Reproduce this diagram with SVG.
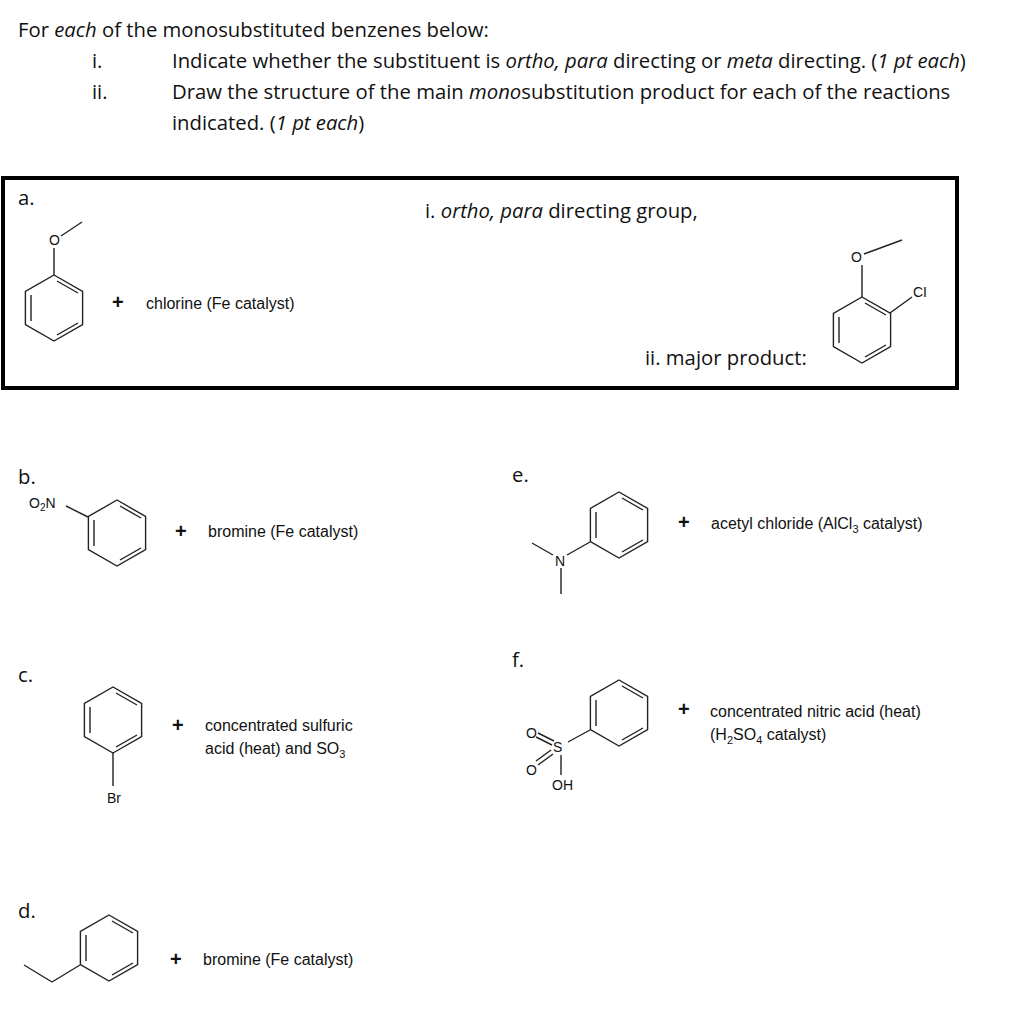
<svg xmlns="http://www.w3.org/2000/svg" width="1024" height="1010" viewBox="0 0 1024 1010">
<style>
.h{font-family:"Open Sans","Liberation Sans",sans-serif;font-size:20.3px;fill:#111}
.r{font-family:"Liberation Sans",Arial,sans-serif;font-size:16px;fill:#111}
.a{font-family:"Liberation Sans",Arial,sans-serif;font-size:14px;fill:#111}
.p{font-family:"Liberation Sans",Arial,sans-serif;font-size:20px;font-weight:bold;fill:#111}
.b{fill:none;stroke:#222;stroke-width:1.4}
</style>
<defs>
<g id="bz">
<polygon class="b" points="0,-33 28.6,-16.5 28.6,16.5 0,33 -28.6,16.5 -28.6,-16.5"/>
<line class="b" x1="3" y1="-27" x2="24" y2="-15"/>
<line class="b" x1="-23" y1="-13" x2="-23" y2="13"/>
<line class="b" x1="3" y1="27" x2="24" y2="15"/>
</g>
</defs>
<rect width="1024" height="1010" fill="#fff"/>
<text class="h" x="18" y="37">For <tspan font-style="italic">each</tspan> of the monosubstituted benzenes below:</text>
<text class="h" x="92" y="68">i.</text>
<text class="h" x="92" y="99">ii.</text>
<text class="h" x="172" y="68">Indicate whether the substituent is <tspan font-style="italic">ortho, para</tspan> directing or <tspan font-style="italic">meta</tspan> directing. (<tspan font-style="italic">1 pt each</tspan>)</text>
<text class="h" x="172" y="99">Draw the structure of the main <tspan font-style="italic">mono</tspan>substitution product for each of the reactions</text>
<text class="h" x="172" y="130">indicated. (<tspan font-style="italic">1 pt each</tspan>)</text>
<rect x="3" y="178" width="954" height="210" fill="none" stroke="#000" stroke-width="4"/>
<g id="a">
<text class="h" x="18" y="205">a.</text>
<use href="#bz" x="54" y="308"/>
<line class="b" x1="54" y1="275" x2="54" y2="248"/>
<text class="a" x="49" y="245">O</text>
<line class="b" x1="61" y1="236" x2="82" y2="222"/>
<text class="p" x="112" y="309">+</text>
<text class="r" x="146" y="309">chlorine (Fe catalyst)</text>
</g>
<g id="a-answer">
<text class="h" x="425" y="218">i. <tspan font-style="italic">ortho, para</tspan> directing group,</text>
<text class="h" x="645" y="365">ii. major product:</text>
<use href="#bz" x="862" y="330"/>
<line class="b" x1="862" y1="297" x2="862" y2="265"/>
<text class="a" x="851" y="262">O</text>
<line class="b" x1="864" y1="254" x2="902" y2="240"/>
<line class="b" x1="890" y1="313" x2="912" y2="297"/>
<text class="a" x="913" y="297">CI</text>
</g>
<g id="b">
<text class="h" x="18" y="484">b.</text>
<text class="a" x="29" y="508">O<tspan font-size="10" dy="3">2</tspan><tspan dy="-3">N</tspan></text>
<line class="b" x1="66" y1="506" x2="88" y2="517"/>
<use href="#bz" x="117" y="533"/>
<text class="p" x="175" y="538">+</text>
<text class="r" x="208" y="537">bromine (Fe catalyst)</text>
</g>
<g id="c">
<text class="h" x="18" y="682">c.</text>
<g transform="translate(113 720) scale(1 -1)"><use href="#bz"/></g>
<line class="b" x1="113" y1="753" x2="113" y2="786"/>
<text class="a" x="107" y="803">Br</text>
<text class="p" x="172" y="732">+</text>
<text class="r" x="205" y="731">concentrated sulfuric</text>
<text class="r" x="205" y="754">acid (heat) and SO<tspan font-size="11" dy="4">3</tspan></text>
</g>
<g id="d">
<text class="h" x="18" y="918">d.</text>
<use href="#bz" x="109" y="948"/>
<line class="b" x1="80" y1="965" x2="52" y2="982"/>
<line class="b" x1="52" y1="982" x2="24" y2="965"/>
<text class="p" x="170" y="966">+</text>
<text class="r" x="203" y="965">bromine (Fe catalyst)</text>
</g>
<g id="e">
<text class="h" x="512" y="482">e.</text>
<use href="#bz" x="619" y="525"/>
<line class="b" x1="590" y1="542" x2="567" y2="555"/>
<text class="a" x="555" y="566">N</text>
<line class="b" x1="553" y1="555" x2="532" y2="543"/>
<line class="b" x1="561" y1="568" x2="561" y2="594"/>
<text class="p" x="678" y="529">+</text>
<text class="r" x="711" y="529">acetyl chloride (AlCl<tspan font-size="11" dy="4">3</tspan><tspan dy="-4"> catalyst)</tspan></text>
</g>
<g id="f">
<text class="h" x="512" y="667">f.</text>
<use href="#bz" x="619" y="713"/>
<line class="b" x1="590" y1="730" x2="568" y2="742"/>
<text class="a" x="553" y="752">S</text>
<text class="a" x="526" y="738">O</text>
<line class="b" x1="538" y1="733" x2="554" y2="741"/>
<line class="b" x1="536" y1="737" x2="552" y2="745"/>
<text class="a" x="526" y="775">O</text>
<line class="b" x1="538" y1="765" x2="553" y2="754"/>
<line class="b" x1="536" y1="761" x2="551" y2="750"/>
<line class="b" x1="561" y1="755" x2="561" y2="775"/>
<text class="a" x="552" y="790">OH</text>
<text class="p" x="678" y="716">+</text>
<text class="r" x="710" y="717">concentrated nitric acid (heat)</text>
<text class="r" x="710" y="740">(H<tspan font-size="11" dy="4">2</tspan><tspan dy="-4">SO</tspan><tspan font-size="11" dy="4">4</tspan><tspan dy="-4"> catalyst)</tspan></text>
</g>
</svg>
